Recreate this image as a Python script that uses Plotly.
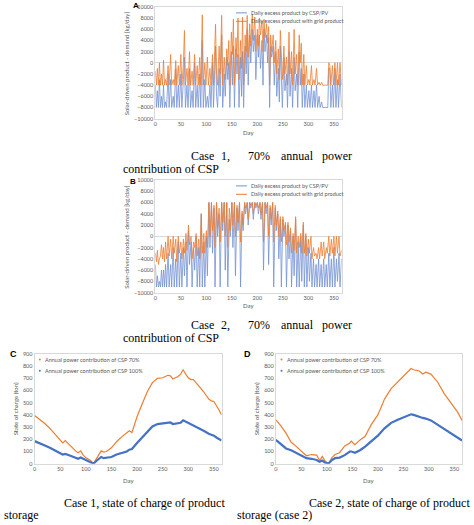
import plotly.graph_objects as go

# ---- data ----
# Panel A: case 1, daily excess product (kg/day)
a_day = [0, 2, 4, 6, 8, 10, 12, 14, 16, 18,
         20, 22, 25, 27, 30, 32, 35, 37, 40, 42,
         45, 47, 50, 52, 55, 57, 59, 62, 64, 67,
         69, 72, 74, 77, 79, 82, 84, 87, 89, 92,
         94, 97, 99, 102, 104, 107, 109, 112, 114, 118,
         120, 122, 125, 127, 130, 132, 135, 137, 140, 142,
         144, 146, 149, 151, 153, 155, 158, 160, 162, 164,
         167, 169, 171, 173, 176, 178, 180, 182, 185, 187,
         190, 192, 195, 197, 200, 202, 204, 206, 209, 211,
         213, 215, 218, 220, 222, 224, 226, 228, 231, 233,
         236, 238, 241, 243, 245, 247, 249, 252, 254, 257,
         259, 262, 264, 267, 269, 272, 274, 277, 279, 282,
         284, 286, 288, 291, 293, 296, 298, 301, 303, 306,
         308, 311, 313, 316, 318, 321, 323, 326, 328, 333,
         338, 340, 342, 344, 347, 349, 352, 354, 357, 359,
         362, 365]
a_csp = [-4000, -8000, -5000, -8000, -3000, -8000, -6000, -8000, -4000, -8000,
         -7000, -8000, -2000, -8000, -3000, -8000, -6000, -8000, -1000, -8000,
         -4000, -8000, -2000, -8000, -3000, 1000, -8000, -4000, -8000, -1000,
         -8000, -5000, -8000, 0, -8000, -4000, -8000, -2000, -8000, 4000,
         -8000, -3000, -8000, -6000, -8000, -4000, -8000, 0, -8000, 3000,
         -6000, -8000, -1000, -6000, 5000, -8000, -2000, -6000, 1000, -3000,
         0, -8000, 2000, -4000, 3000, -8000, 2500, -2000, 1500, -8000,
         1000, -6000, 2000, -8000, 3000, -2000, 6000, -4000, 5000, 0,
         6000, 2000, 5000, -3000, 5000, 1000, 5000, -1000, 4000, -4000,
         6000, 2000, 5000, 0, 4500, -8000, 3000, 1000, 3000, -4000,
         2000, -6000, -1000, -7000, 3000, -3000, -8000, 1000, -5000, -2000,
         -8000, 2000, -6000, -1000, -8000, 1000, -5000, -2000, -8000, 2000,
         -4000, -1000, -8000, -2000, -8000, -4000, -8000, -5000, -8000, -4000,
         -8000, -5000, -8000, -4000, -8000, -6000, -8000, -7000, -8000, -8000,
         -8000, -1000, -1000, -8000, -4000, -8000, -1000, -8000, -3000, -8000,
         -2000, -8000]
a_grid = [-1500, -4000, -1000, -4000, 0, -4000, -2000, -4000, 500, -4000,
          -3000, -4000, -500, -4000, 1500, -4000, -3000, -4000, 400, -4000,
          -500, -4000, 1500, -4000, 0, 5800, -4000, -1000, -4000, 2000,
          -4000, -1500, -4000, 1500, -4000, -500, -4000, 1000, -4000, 8600,
          -4000, 0, -4000, 1000, -4000, -1000, -4000, 1500, -4000, 6900,
          -2000, -4000, 3000, -2000, 8500, -4000, 1000, -3000, 2500, -500,
          4000, -4000, 5500, 1500, 7800, -4000, 4500, 1000, 8000, -3000,
          4000, -1000, 8200, -4000, 5000, 2000, 8500, 1000, 7000, 3000,
          8700, 4000, 8200, 2000, 6000, 3000, 8000, 5000, 7500, 2000,
          7800, 4500, 7000, 3500, 6500, -4000, 5000, 2000, 5000, 0,
          4000, -2000, 2500, -3000, 5800, 1000, -3000, 3000, -2000, 1000,
          -4000, 5500, -2000, 2000, -4000, 6000, -2000, 1500, -4000, 5000,
          0, 3500, -4000, 1500, -4000, -500, -4000, -3000, -4000, -500,
          -4000, -3000, -4000, -1000, -4000, -3500, -4000, -3500, -4000, -4000,
          -4000, 0, -500, -4000, -500, -4000, 0, -4000, 0, -4000,
          0, -4000]

# Panel B: case 2, daily excess product (kg/day)
b_day = [0, 2, 4, 6, 8, 10, 12, 14, 16, 18,
         20, 22, 25, 27, 30, 32, 35, 37, 40, 42,
         45, 47, 50, 52, 55, 57, 60, 62, 65, 67,
         70, 72, 75, 77, 80, 82, 85, 87, 90, 92,
         95, 97, 100, 102, 105, 107, 110, 112, 115, 117,
         120, 122, 125, 127, 130, 132, 135, 137, 140, 142,
         145, 147, 150, 152, 155, 157, 160, 162, 165, 167,
         170, 172, 175, 177, 180, 182, 185, 187, 190, 192,
         195, 197, 200, 202, 205, 207, 210, 212, 215, 217,
         220, 222, 225, 227, 230, 232, 235, 237, 240, 242,
         245, 247, 250, 252, 255, 257, 260, 262, 265, 267,
         270, 272, 275, 277, 280, 282, 285, 287, 290, 292,
         295, 297, 300, 302, 305, 307, 310, 312, 315, 317,
         320, 322, 325, 327, 330, 332, 335, 337, 340, 342,
         345, 347, 350, 352, 355, 357, 360, 362, 365]
b_csp = [-5000, -9000, -7000, -9000, -8000, -9000, -6000, -9000, -6000, -9000,
         -5000, -9000, -3000, -9000, -5000, -9000, -2000, -9000, -4000, -9000,
         -1000, -9000, -3000, -9000, -2000, -7000, -1000, -9000, 1000, -5000,
         -1000, -9000, -2000, -6000, 0, -9000, -2000, -9000, 4000, -9000,
         -1000, -9000, 0, -7000, 6000, -2000, 6000, -3000, 5000, -9000,
         6000, 0, 4000, -9000, 6000, 1000, 6000, -6000, 6000, -9000,
         3000, 0, 6000, -2000, 6000, -7000, 5000, 1000, 6000, -9000,
         4000, 1000, 6000, 4000, 6000, 2000, 6000, 5000, 6000, 3000,
         6000, 5000, 6000, 4000, 6000, 3000, 6000, -6000, 6000, 4000,
         6000, -5000, 5000, 2000, 6000, -9000, 5000, 1000, 4000, -4000,
         3000, -9000, 3000, 0, 2000, -9000, 2000, -4000, 1000, -9000,
         0, -7000, 3000, -9000, -1000, -9000, 0, -8000, 2000, -9000,
         0, -9000, -2000, -8000, -3000, -9000, -4000, -9000, -5000, -9000,
         -4000, -9000, -5000, -9000, -4000, -9000, -5000, -9000, -3000, -9000,
         -4000, -9000, -2000, -9000, -4000, -8000, -3000, -9000, -4000]
b_grid = [-3000, -4500, -2500, -5000, -4000, -3500, -1500, -4000, -2000, -4500,
          -1000, -4000, 0, -3500, -500, -4000, 0, -3000, -500, -4500,
          0, -3000, -1000, -4000, -500, -3000, 500, -2500, 2000, -1500,
          0, -4000, -1000, -2000, 500, -3500, -500, -4000, 4000, -3000,
          500, -3000, 1000, -2000, 6000, 0, 6000, 1000, 5500, -2000,
          6000, 1500, 5000, -1000, 6000, 2500, 6000, 0, 6000, -2000,
          5000, 1000, 6000, 2000, 6000, 0, 5500, 2500, 6000, -1000,
          4500, 2000, 6000, 5000, 6000, 3000, 6000, 5500, 6000, 4000,
          6000, 5500, 6000, 5000, 6000, 4000, 6000, -1000, 6000, 5000,
          6000, 0, 5500, 3000, 6000, -1000, 5500, 2000, 4500, 0,
          3500, -1000, 3500, 1000, 2500, -1500, 2500, -1000, 1500, -3000,
          500, -2500, 3500, -3000, 0, -2000, 500, -3000, 2500, -3000,
          500, -3500, -500, -3000, 0, -4000, -2000, -3500, -3000, -4000,
          -2000, -4000, -1000, -3500, -1000, -4000, -2000, -3000, 0, -3500,
          -500, -3000, 0, -3500, 0, -3000, 0, -3500, -2500]

# Panel C: case 1, state of charge (ton)
c_day = [0, 10, 20, 30, 40, 50, 55, 60, 70, 80,
         85, 90, 95, 100, 110, 115, 120, 125, 130, 135,
         140, 150, 160, 170, 180, 185, 190, 200, 210, 220,
         230, 240, 250, 260, 265, 270, 275, 280, 285, 290,
         295, 300, 305, 310, 320, 330, 340, 345, 350, 355,
         360, 365]
c_csp70 = [395, 365, 330, 290, 240, 195, 170, 190, 145, 105,
           90, 105, 70, 50, 25, 0, 35, 75, 105, 95,
           100, 130, 180, 220, 250, 270, 255, 385, 490, 590,
           665, 700, 705, 725, 720, 695, 705, 715, 735, 770,
           735, 705, 690, 690, 640, 590, 530, 515, 510, 480,
           440, 400]
c_csp100 = [185, 170, 150, 130, 105, 85, 75, 80, 65, 45,
            40, 50, 40, 30, 12, 0, 20, 35, 55, 45,
            50, 55, 75, 90, 100, 115, 120, 170, 215, 265,
            305, 325, 330, 335, 338, 325, 330, 335, 335, 355,
            345, 330, 320, 315, 295, 270, 245, 240, 230, 215,
            200, 190]

# Panel D: case 2, state of charge (ton)
d_day = [0, 10, 20, 30, 35, 40, 50, 60, 70, 80,
         86, 91, 96, 103, 110, 116, 125, 135, 145, 148,
         155, 165, 175, 187, 200, 213, 226, 239, 252, 262,
         265, 270, 275, 281, 288, 294, 304, 317, 330, 343,
         356, 365]
d_csp70 = [360, 310, 250, 175, 160, 140, 105, 65, 75, 70,
           25, 60, 25, 0, 50, 75, 90, 145, 170, 185,
           155, 195, 225, 320, 400, 530, 615, 670, 720, 760,
           780, 770, 765, 760, 735, 750, 735, 670, 575, 505,
           425, 355]
d_csp100 = [195, 160, 125, 110, 100, 90, 65, 45, 40, 30,
            15, 25, 10, 0, 30, 45, 50, 70, 100, 100,
            90, 110, 140, 185, 230, 290, 335, 360, 385, 400,
            405, 400, 395, 385, 375, 370, 355, 320, 285, 250,
            215, 190]

day_ticks = [0, 50, 100, 150, 200, 250, 300, 350]
blue = "#4472C4"
light_blue = "#7392D4"
orange = "#ED7D31"
grey = "#595959"
frame = "#D9D9D9"
sans = "Lato"
serif = "Liberation Serif"

W, H = 474, 525


def px(x):
    return x / W


def py(y):
    return 1 - y / H


fig = go.Figure()

# daily excess product panels
fig.add_trace(go.Scatter(x=a_day, y=a_csp, mode="lines", line=dict(color=light_blue, width=0.8),
                         xaxis="x", yaxis="y", showlegend=False))
fig.add_trace(go.Scatter(x=a_day, y=a_grid, mode="lines", line=dict(color=orange, width=0.8),
                         xaxis="x", yaxis="y", showlegend=False))
fig.add_trace(go.Scatter(x=b_day, y=b_csp, mode="lines", line=dict(color=light_blue, width=0.8),
                         xaxis="x2", yaxis="y2", showlegend=False))
fig.add_trace(go.Scatter(x=b_day, y=b_grid, mode="lines", line=dict(color=orange, width=0.8),
                         xaxis="x2", yaxis="y2", showlegend=False))

# state of charge panels
fig.add_trace(go.Scatter(x=c_day, y=c_csp70, mode="lines", line=dict(color=orange, width=1.2),
                         xaxis="x3", yaxis="y3", showlegend=False))
fig.add_trace(go.Scatter(x=c_day, y=c_csp100, mode="lines", line=dict(color=blue, width=2.2),
                         xaxis="x3", yaxis="y3", showlegend=False))
fig.add_trace(go.Scatter(x=d_day, y=d_csp70, mode="lines", line=dict(color=orange, width=1.2),
                         xaxis="x4", yaxis="y4", showlegend=False))
fig.add_trace(go.Scatter(x=d_day, y=d_csp100, mode="lines", line=dict(color=blue, width=2.2),
                         xaxis="x4", yaxis="y4", showlegend=False))

tick_font = dict(family=sans, size=5.5, color=grey)


def xax(dom, anchor):
    return dict(domain=dom, anchor=anchor, range=[0, 365], tickvals=day_ticks,
                showgrid=False, zeroline=False, showline=True, mirror=True,
                linecolor=frame, linewidth=1, tickfont=tick_font, ticks="")


def yax(dom, anchor, rng, dtick, zero):
    return dict(domain=dom, anchor=anchor, range=rng, dtick=dtick, tickformat="d",
                showgrid=False, zeroline=zero, zerolinecolor=frame, zerolinewidth=1,
                showline=True, mirror=True, linecolor=frame, linewidth=1,
                tickfont=tick_font, ticks="")


fig.update_layout(
    width=W, height=H,
    margin=dict(l=0, r=0, t=0, b=0),
    paper_bgcolor="white", plot_bgcolor="white",
    showlegend=False,
    xaxis=xax([px(154), px(341)], "y"),
    yaxis=yax([py(117), py(4)], "x", [-10000, 10000], 2000, True),
    xaxis2=xax([px(154), px(341)], "y2"),
    yaxis2=yax([py(293), py(179)], "x2", [-10000, 10000], 2000, True),
    xaxis3=xax([px(32.7), px(220.5)], "y3"),
    yaxis3=yax([py(466), py(355)], "x3", [0, 900], 100, False),
    xaxis4=xax([px(275), px(462)], "y4"),
    yaxis4=yax([py(466), py(355)], "x4", [0, 900], 100, False),
)

ann = []


def text(x, y, s, size=6, color=grey, family=sans, xanchor="center", angle=0, bold=False):
    if bold:
        s = "<b>" + s + "</b>"
    ann.append(dict(x=px(x), y=py(y), xref="paper", yref="paper", text=s, showarrow=False,
                    xanchor=xanchor, yanchor="middle", textangle=angle,
                    font=dict(family=family, size=size, color=color)))


# panel letters
text(135, 2.5, "A", size=8, color="black", family="Liberation Sans", bold=True)
text(132, 180.5, "B", size=8, color="black", family="Liberation Sans", bold=True)
text(12, 355, "C", size=9, color="black", family="Liberation Sans", bold=True)
text(247, 355, "D", size=9, color="black", family="Liberation Sans", bold=True)

# axis titles
text(125, 60.5, "Solar-driven product - demand [kg/day]", angle=-90)
text(125, 236, "Solar-driven product - demand [kg/day]", angle=-90)
text(13, 410, "State of charge (ton)", angle=-90)
text(255, 410, "State of charge (ton)", angle=-90)
text(248, 131.5, "Day")
text(248, 306.5, "Day")
text(126.7, 482.7, "Day")
text(368.3, 482.7, "Day")

# legends of A and B
shapes = []
for y0 in (10, 185):
    for dy, col, lab in ((0, light_blue, "Daily excess product by CSP/PV"),
                         (8.5, orange, "Daily excess product with grid product")):
        shapes.append(dict(type="line", xref="paper", yref="paper",
                           x0=px(235), x1=px(246), y0=py(y0 + dy), y1=py(y0 + dy),
                           line=dict(color=col, width=1)))
        text(248.5, y0 + dy, lab, size=5.5, xanchor="left")

# legends of C and D
for x0 in (38, 280.7):
    for yy, col, lab in ((360.7, orange, "Annual power contribution of CSP 70%"),
                         (372, blue, "Annual power contribution of CSP 100%")):
        shapes.append(dict(type="circle", xref="paper", yref="paper",
                           x0=px(x0 - 1), x1=px(x0 + 1), y0=py(yy + 1), y1=py(yy - 1),
                           fillcolor=col, line=dict(color=col, width=0)))
        text(x0 + 3, yy, lab, size=5.5, xanchor="left")

# captions (justified first lines)
for yy, num in ((155, "1,"), (326, "2,")):
    text(188, yy, "Case", size=12, color="black", family=serif, xanchor="left")
    text(218, yy, num, size=12, color="black", family=serif, xanchor="left")
    text(245, yy, "70%", size=12, color="black", family=serif, xanchor="left")
    text(278, yy, "annual", size=12, color="black", family=serif, xanchor="left")
    text(353, yy, "power", size=12, color="black", family=serif, xanchor="right")
    text(120, yy + 12.5, "contribution of CSP", size=12, color="black", family=serif, xanchor="left")

text(60, 505.7, "Case 1, state of charge of product", size=12, color="black", family=serif, xanchor="left")
text(0, 517.5, "storage", size=12, color="black", family=serif, xanchor="left")
text(306, 505.7, "Case 2, state of charge of product", size=12, color="black", family=serif, xanchor="left")
text(234, 517.5, "storage (case 2)", size=12, color="black", family=serif, xanchor="left")

fig.update_layout(annotations=ann, shapes=shapes)

# the page body has an 8px default margin; drop it so the figure fills the window
fig.write_html("out.html", config={"displayModeBar": False},
               post_script="document.body.style.margin = '0';")
